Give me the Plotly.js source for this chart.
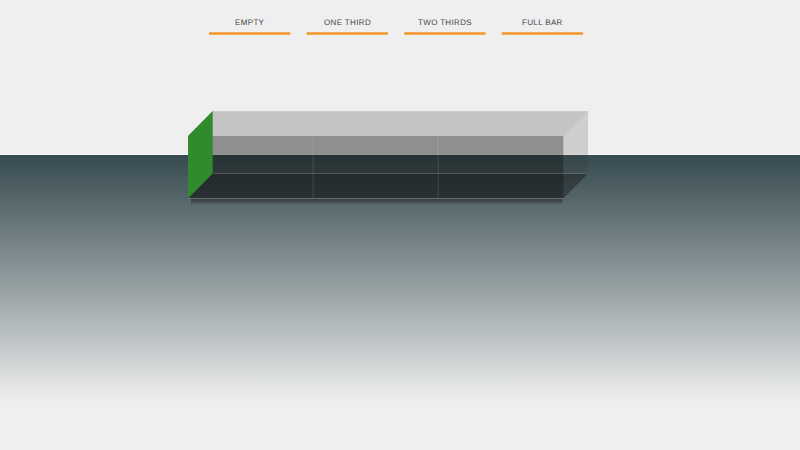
<!DOCTYPE html>
<html><head><meta charset="utf-8">
<script src="https://cdn.plot.ly/plotly-3.0.1.min.js"></script>
<style>
html,body{margin:0;padding:0;background:#efefef;overflow:hidden}
#c{width:800px;height:450px}
.annotation-text{letter-spacing:0.35px;text-rendering:geometricPrecision}
</style></head><body><div id="c"></div>
<script>
// Data
var categories = ["EMPTY","ONE THIRD","TWO THIRDS","FULL BAR"];
var segments = [1,1,1];
var filled = [0,0,0];

// Geometry / style (pixel-scaled axes)
var W=800,H=450;
var barL=188,barR=563.3,barTop=136,barBot=198.5,dx=24.7,dy=25;
var horizon=155,fadeEnd=402;
var total=segments.reduce(function(a,b){return a+b},0);
var unit=(barR-barL)/total;
var traces=[];
function poly(xs,ys,color){traces.push({type:'scatter',mode:'none',x:xs.concat(xs[0]),y:ys.concat(ys[0]),fill:'toself',fillcolor:color,hoverinfo:'skip'});}
function line(xs,ys,color,w){traces.push({type:'scatter',mode:'lines',x:xs,y:ys,line:{color:color,width:w},hoverinfo:'skip'});}

// floor gradient
traces.push({type:'scatter',mode:'none',x:[0,W,W,0,0],y:[horizon,horizon,fadeEnd,fadeEnd,horizon],fill:'toself',hoverinfo:'skip',
 fillgradient:{type:'vertical',start:horizon,stop:fadeEnd,colorscale:[[0,'#364a4f'],[0.5,'#8f9a9d'],[1,'#efefef']]}});
line([0,W],[horizon-0.5,horizon-0.5],'rgba(255,255,255,0.7)',1);

// soft shadow beneath the bar
[[6,0.08],[4.5,0.12],[3,0.2]].forEach(function(s){
  line([barL+3,barR-1],[barBot+s[0]/2,barBot+s[0]/2],'rgba(0,0,0,'+s[1]+')',s[0]);
});

// floor
poly([barL,barR,barR+dx,barL+dx],[barBot,barBot,barBot-dy,barBot-dy],'rgba(14,18,20,0.36)');
// top
poly([barL,barR,barR+dx,barL+dx],[barTop,barTop,barTop-dy,barTop-dy],'rgba(55,55,55,0.23)');
// right cap
poly([barR,barR+dx,barR+dx,barR],[barTop,barTop-dy,barBot-dy,barBot],'rgba(45,48,50,0.17)');
// front
poly([barL,barR,barR,barL],[barTop,barTop,barBot,barBot],'rgba(20,20,20,0.44)');
// seams
var cum=0;
segments.forEach(function(v,i){
  cum+=v;
  if(i<segments.length-1){
    var x=barL+cum*unit;
    line([x,x],[barTop,barBot],'rgba(255,255,255,0.16)',0.8);
    line([x,x+dx],[barTop,barTop-dy],'rgba(255,255,255,0.10)',0.8);
  }
});
line([barL+dx,barR+dx],[barBot-dy,barBot-dy],'rgba(255,255,255,0.22)',0.8);
line([barL+dx,barR+dx],[barTop-dy,barTop-dy],'rgba(255,255,255,0.3)',0.8);
line([barL,barR],[barBot,barBot],'rgba(255,255,255,0.25)',1);
// left cap
poly([barL,barL+dx,barL+dx,barL],[barTop,barTop-dy,barBot-dy,barBot],'#2f8b2b');

// tab underlines and labels
var tabL=209,tabW=81.3,tabStep=97.6,annos=[];
categories.forEach(function(c,i){
  var l=tabL+i*tabStep;
  line([l,l+tabW],[33.5,33.5],'#f5952a',2.6);
  annos.push({x:l+tabW/2,y:22,xref:'x',yref:'y',text:c,showarrow:false,xanchor:'center',yanchor:'middle',
    font:{family:'Liberation Sans, Arial, sans-serif',size:8,color:'#444444'}});
});

Plotly.newPlot('c',traces,{
  width:W,height:H,margin:{l:0,r:0,t:0,b:0},showlegend:false,
  paper_bgcolor:'#efefef',plot_bgcolor:'#efefef',
  xaxis:{range:[0,W],visible:false,fixedrange:true},
  yaxis:{range:[H,0],visible:false,fixedrange:true},
  annotations:annos
},{staticPlot:true,displayModeBar:false});
</script></body></html>
